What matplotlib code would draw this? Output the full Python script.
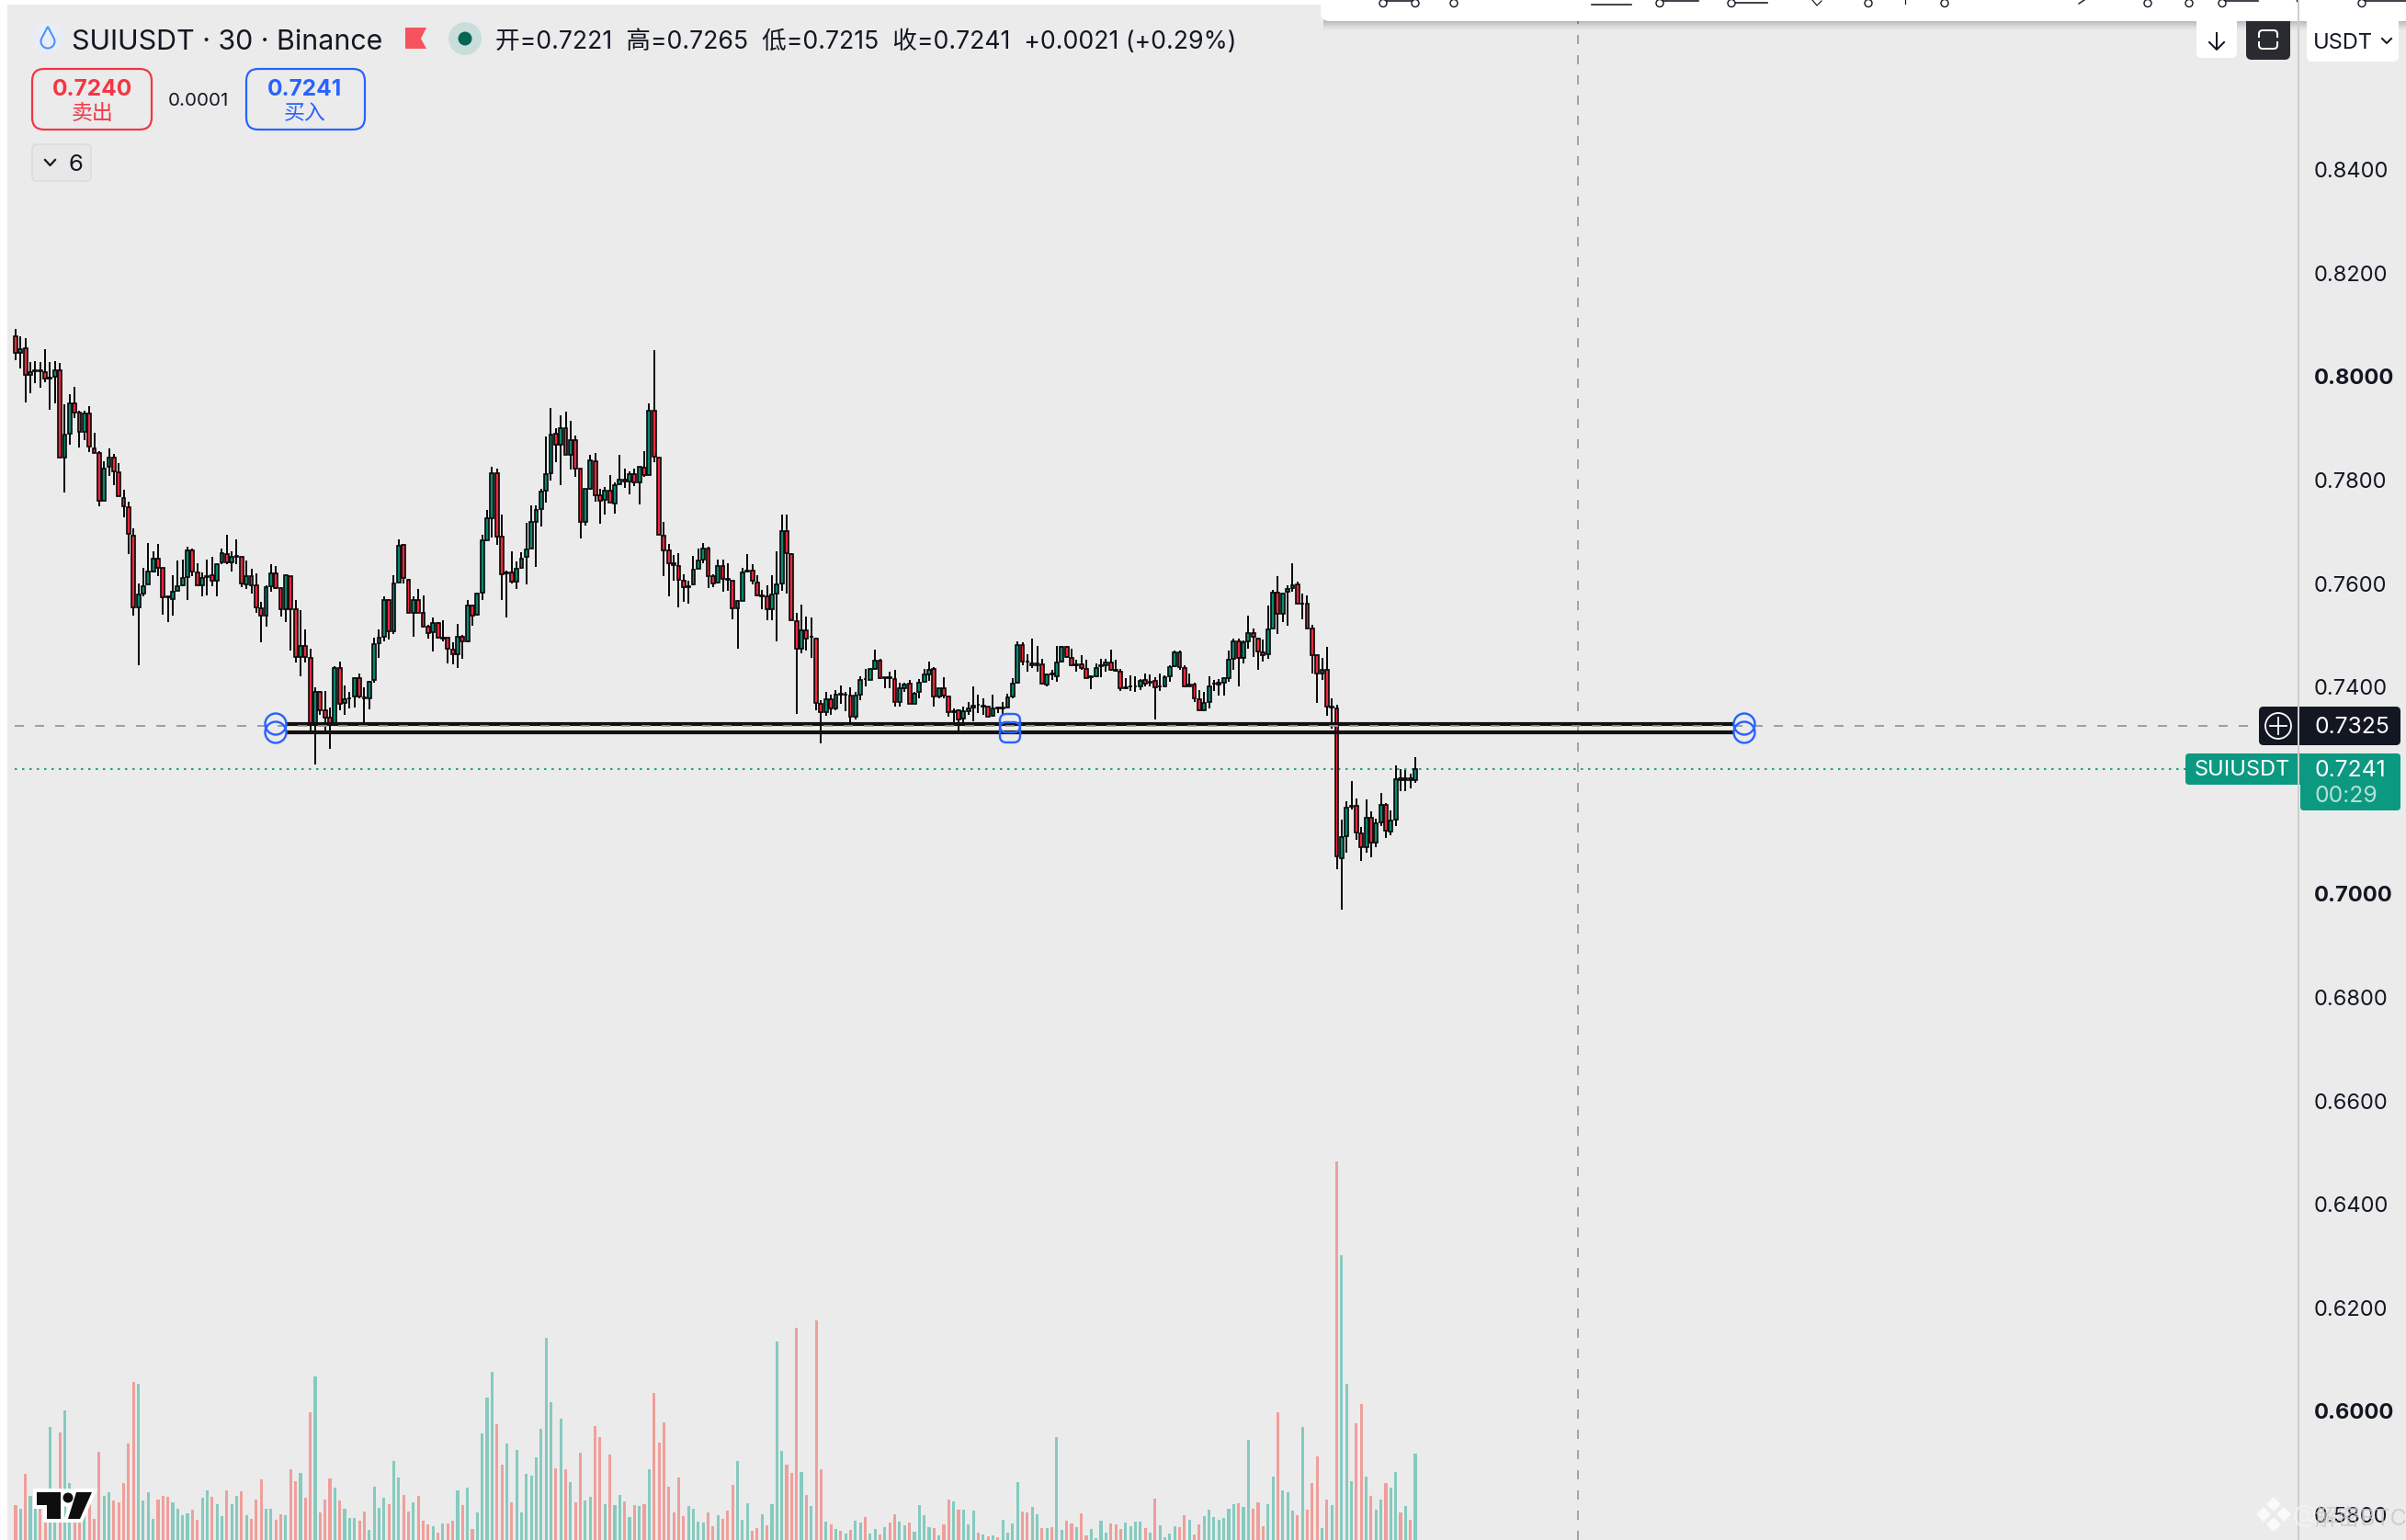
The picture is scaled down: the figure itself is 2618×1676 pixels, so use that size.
import numpy as np
import matplotlib
matplotlib.use("Agg")
import matplotlib.pyplot as plt
from matplotlib.patches import FancyBboxPatch, Circle, Rectangle, Polygon

# ---------- data: prices in units of 0.0001 USDT ----------
open_e4 = [
8078,8047,8055,8003,8010,8012,8009,7997,8000,8013,
7844,7889,7949,7930,7894,7929,7862,7853,7760,7825,
7843,7816,7766,7748,7692,7554,7581,7598,7624,7649,
7631,7575,7570,7586,7597,7613,7665,7622,7597,7613,
7617,7605,7641,7657,7641,7652,7652,7599,7615,7597,
7553,7538,7595,7620,7592,7550,7615,7551,7458,7480,
7457,7328,7391,7356,7341,7331,7437,7369,7378,7381,
7418,7380,7378,7414,7485,7498,7569,7508,7602,7675,
7608,7544,7568,7544,7517,7506,7524,7493,7495,7473,
7464,7498,7489,7557,7540,7582,7684,7726,7813,7691,
7619,7622,7604,7630,7652,7668,7720,7744,7779,7813,
7890,7869,7900,7849,7877,7822,7720,7784,7836,7770,
7762,7779,7755,7792,7801,7798,7812,7795,7824,7810,
7935,7844,7692,7665,7639,7634,7606,7593,7598,7629,
7646,7668,7614,7602,7634,7609,7606,7553,7566,7623,
7626,7602,7576,7575,7551,7581,7600,7701,7657,7528,
7475,7509,7497,7493,7367,7351,7376,7359,7387,7385,
7384,7343,7385,7416,7414,7436,7451,7418,7420,7415,
7372,7398,7406,7368,7390,7410,7425,7435,7381,7397,
7382,7351,7356,7339,7354,7361,7366,7363,7362,7344,
7361,7359,7361,7381,7408,7482,7450,7443,7443,7444,
7405,7426,7421,7449,7477,7457,7443,7444,7436,7420,
7421,7440,7442,7447,7434,7430,7398,7401,7401,7402,
7413,7408,7412,7401,7401,7421,7440,7467,7437,7402,
7405,7377,7356,7371,7406,7405,7408,7418,7455,7489,
7457,7488,7504,7494,7467,7463,7513,7582,7542,7584,
7591,7598,7561,7562,7513,7461,7427,7433,7360,7359,
7070,7111,7168,7171,7118,7090,7147,7100,7138,7173,
7121,7144,7223,7221,7223,7221]
close_e4 = [
8047,8053,8003,8009,8012,8010,7997,7998,8013,7844,
7888,7949,7930,7894,7929,7865,7853,7760,7822,7843,
7817,7769,7749,7696,7554,7579,7595,7623,7649,7631,
7573,7573,7585,7595,7611,7665,7624,7597,7611,7615,
7606,7637,7659,7641,7652,7653,7600,7615,7597,7554,
7538,7594,7620,7592,7550,7617,7550,7458,7480,7458,
7328,7391,7356,7341,7328,7437,7367,7377,7379,7418,
7381,7378,7411,7483,7495,7569,7508,7600,7674,7611,
7544,7568,7544,7517,7504,7524,7495,7495,7474,7464,
7498,7488,7557,7539,7581,7683,7726,7813,7691,7618,
7622,7604,7628,7649,7666,7719,7742,7778,7812,7888,
7869,7900,7849,7877,7822,7720,7783,7838,7771,7760,
7779,7756,7790,7801,7798,7812,7795,7826,7810,7935,
7845,7694,7665,7639,7636,7607,7593,7595,7627,7645,
7668,7614,7600,7634,7609,7608,7553,7566,7622,7626,
7605,7577,7578,7551,7579,7599,7701,7659,7529,7475,
7509,7493,7498,7369,7351,7376,7359,7386,7385,7386,
7343,7384,7414,7415,7436,7451,7417,7420,7418,7372,
7398,7405,7368,7388,7409,7424,7434,7382,7397,7383,
7351,7353,7338,7353,7359,7364,7365,7364,7343,7359,
7359,7361,7380,7407,7482,7449,7449,7445,7445,7407,
7424,7424,7448,7477,7458,7442,7444,7437,7418,7421,
7437,7442,7447,7433,7431,7398,7400,7402,7402,7412,
7407,7411,7399,7402,7420,7439,7467,7439,7401,7405,
7378,7356,7369,7401,7407,7408,7418,7453,7489,7457,
7487,7504,7497,7469,7461,7512,7582,7542,7581,7590,
7596,7561,7562,7514,7462,7427,7433,7362,7362,7073,
7110,7167,7171,7119,7090,7147,7099,7137,7173,7122,
7142,7222,7221,7223,7221,7241]
high_e4 = [
8093,8078,8075,8028,8031,8029,8054,8029,8031,8026,
7946,7967,7981,7935,7935,7944,7891,7856,7836,7862,
7851,7833,7781,7759,7706,7601,7631,7678,7663,7676,
7631,7576,7617,7644,7646,7672,7667,7639,7621,7647,
7651,7639,7667,7695,7663,7685,7652,7644,7628,7619,
7565,7597,7637,7634,7594,7618,7615,7568,7548,7512,
7474,7399,7393,7392,7360,7440,7450,7404,7390,7420,
7427,7399,7412,7496,7511,7575,7570,7616,7685,7676,
7610,7576,7589,7578,7520,7535,7525,7529,7496,7486,
7523,7501,7568,7560,7582,7694,7743,7825,7822,7733,
7626,7662,7643,7661,7718,7751,7751,7784,7885,7939,
7900,7926,7932,7914,7887,7822,7784,7849,7852,7784,
7786,7810,7795,7849,7822,7817,7822,7826,7856,7948,
8051,7844,7720,7676,7656,7659,7618,7606,7654,7667,
7678,7672,7618,7646,7646,7640,7606,7568,7631,7658,
7637,7617,7588,7596,7616,7663,7733,7734,7659,7544,
7559,7536,7534,7495,7374,7390,7385,7395,7404,7391,
7399,7390,7421,7436,7436,7472,7455,7420,7430,7433,
7409,7409,7414,7390,7415,7436,7449,7438,7397,7420,
7383,7359,7357,7362,7372,7401,7385,7378,7363,7386,
7362,7372,7387,7417,7489,7486,7464,7493,7480,7455,
7427,7434,7480,7480,7479,7475,7453,7461,7452,7423,
7445,7455,7455,7472,7453,7436,7417,7423,7421,7415,
7426,7424,7420,7426,7423,7442,7470,7470,7443,7426,
7408,7395,7390,7421,7414,7416,7420,7470,7494,7494,
7490,7538,7514,7495,7492,7558,7588,7614,7582,7596,
7639,7604,7580,7577,7520,7463,7456,7478,7378,7365,
7143,7179,7218,7184,7129,7183,7159,7145,7195,7175,
7161,7248,7241,7240,7232,7265]
low_e4 = [
8032,8016,7951,7968,7988,7979,7989,7936,7948,7844,
7777,7869,7920,7863,7877,7855,7853,7750,7760,7808,
7791,7769,7729,7657,7539,7443,7576,7598,7621,7615,
7540,7526,7539,7586,7595,7569,7615,7597,7576,7578,
7595,7576,7637,7637,7624,7637,7594,7590,7581,7544,
7487,7517,7585,7590,7537,7526,7471,7447,7421,7447,
7316,7251,7346,7316,7280,7328,7356,7347,7359,7360,
7378,7331,7357,7409,7457,7488,7492,7502,7602,7600,
7543,7498,7544,7515,7493,7469,7493,7489,7446,7444,
7437,7455,7486,7519,7538,7569,7683,7689,7675,7568,
7535,7600,7590,7628,7599,7667,7633,7711,7757,7800,
7835,7791,7849,7820,7807,7688,7713,7782,7759,7715,
7733,7756,7736,7791,7785,7772,7789,7753,7807,7810,
7834,7694,7615,7576,7606,7554,7565,7562,7597,7628,
7640,7591,7594,7600,7585,7586,7531,7475,7566,7621,
7598,7576,7551,7530,7530,7489,7586,7581,7529,7348,
7466,7470,7457,7356,7292,7345,7347,7356,7367,7354,
7331,7337,7375,7402,7414,7434,7415,7398,7398,7363,
7363,7391,7367,7367,7378,7408,7412,7363,7379,7378,
7343,7331,7314,7331,7347,7334,7349,7347,7342,7343,
7349,7347,7359,7379,7407,7443,7430,7437,7430,7405,
7401,7414,7411,7448,7457,7440,7430,7434,7417,7396,
7420,7420,7430,7431,7429,7392,7396,7393,7391,7394,
7401,7401,7337,7392,7399,7411,7439,7433,7399,7401,
7371,7355,7353,7359,7393,7383,7383,7411,7434,7402,
7446,7475,7459,7434,7449,7455,7513,7503,7526,7519,
7585,7561,7531,7513,7427,7369,7414,7345,7320,7048,
6970,7080,7164,7105,7064,7080,7071,7091,7132,7109,
7113,7132,7199,7199,7205,7215]
volume = [
114,102,216,144,108,108,103,369,108,351,423,186,168,128,98,128,69,288,144,156,
129,123,186,315,516,510,129,156,69,132,144,141,123,102,81,87,99,66,138,162,
141,117,78,162,117,144,159,81,69,132,198,102,102,66,84,81,231,192,219,138,
417,534,90,132,201,171,129,102,72,72,63,93,33,174,105,138,117,258,204,147,
93,123,144,63,51,45,24,54,54,63,162,114,171,36,90,348,465,549,378,246,
315,123,294,90,216,210,270,363,660,450,234,396,231,189,123,285,129,141,372,336,
117,279,114,147,126,75,114,111,117,231,480,318,384,174,90,204,78,111,102,60,
57,90,45,81,69,96,180,
258,66,120,30,39,84,48,117,648,291,246,219,693,222,147,111,717,231,60,51,
36,30,21,33,63,57,75,21,36,18,42,57,84,60,48,57,27,114,81,42,
39,15,51,132,126,99,99,51,96,24,18,12,15,9,66,24,54,189,93,90,
108,84,39,39,42,336,33,63,54,42,87,15,36,6,63,24,54,51,36,57,
45,60,60,39,24,135,48,9,21,45,42,81,66,18,51,78,99,75,66,72,
102,117,120,108,327,102,123,45,117,207,417,162,156,96,81,369,99,186,273,39,
132,114,1236,930,510,192,381,444,207,144,99,132,186,171,222,90,111,66,282]
price_ticks = [0.84, 0.82, 0.80, 0.78, 0.76, 0.74, 0.70, 0.68, 0.66, 0.64, 0.62, 0.60, 0.58]
bold_ticks = [0.80, 0.70, 0.60]
level_price = 0.7325
last_price = 0.7241
zone_top = 0.73286
zone_bottom = 0.73126

# ---------- layout ----------
W, H = 2618, 1676
plt.rcParams['lines.scale_dashes'] = False
FONT = ['Inter', 'Noto Sans CJK SC', 'DejaVu Sans']
plt.rcParams['font.family'] = FONT
BG = '#ebebeb'
PANE_L, PANE_R = 8, 2501
STEP = 5.344; X0 = 17
PX_PER_PRICE = 5630.0
px = lambda v: v * 0.72  # pixels to points

fig = plt.figure(figsize=(W/100, H/100), dpi=100, facecolor=BG)
rect = [PANE_L/W, 0, (PANE_R-PANE_L)/W, 1]
xlim = ((PANE_L-X0)/STEP, (PANE_R-X0)/STEP)
to_idx = lambda x: (x-X0)/STEP

O, C = np.array(open_e4)*1e-4, np.array(close_e4)*1e-4
Hi, Lo = np.array(high_e4)*1e-4, np.array(low_e4)*1e-4
V = np.array(volume, float)
n = min(len(O), len(V))
xs = np.arange(n)
up = C[:n] >= O[:n]

# volume pane (below)
axv = fig.add_axes(rect, facecolor=BG, zorder=1)
axv.set_xlim(*xlim); axv.set_ylim(0, H*3)
axv.bar(xs, V[:n], width=0.58, color=np.where(up, '#86cabf', '#ef9f9b'), linewidth=0)
axv.axis('off')

# price pane
ax = fig.add_axes(rect, zorder=2)
ax.patch.set_alpha(0)
ax.set_xlim(*xlim)
ax.set_ylim(level_price-(H-790)/PX_PER_PRICE, level_price+790/PX_PER_PRICE)
for s in ax.spines.values():
    s.set_visible(False)
ax.set_xticks([])
ax.yaxis.tick_right()
ax.set_yticks(price_ticks)
ax.set_yticklabels([f'{t:.4f}' for t in price_ticks], fontsize=17, color='#131722')
for lab, t in zip(ax.get_yticklabels(), price_ticks):
    if t in bold_ticks:
        lab.set_fontweight('bold')
ax.tick_params(axis='y', length=0, pad=12)

ax.fill_between([to_idx(312), to_idx(1886)], zone_bottom, zone_top, color='#f4f1e4', lw=0, zorder=1)
ax.vlines(xs, Lo[:n], Hi[:n], color='#0a0a0a', lw=px(2.0), zorder=3)
ax.bar(xs, np.abs(C-O)[:n], bottom=np.minimum(O, C)[:n], width=0.72,
       color=np.where(up, '#088a72', '#f5283f'), edgecolor='#0a0a0a', linewidth=px(1.7), zorder=4)
ax.hlines([zone_top, zone_bottom], to_idx(312), to_idx(1886), color='#111111', lw=px(4.2), zorder=5)
ax.hlines(level_price, to_idx(16), to_idx(2470), color='#9598a1', lw=px(1.8),
          linestyles=[(0, (px(10), px(12)))], zorder=6)
ax.hlines(last_price, to_idx(16), to_idx(2380), color='#0c9981', lw=px(1.8),
          linestyles=[(0, (px(2.5), px(5.5)))], zorder=2)
ax.axvline(to_idx(1717), color='#8a8d96', lw=px(1.5), ls=(0, (px(10), px(12))), zorder=2)

# ---------- overlay in figure pixels ----------
ov = fig.add_axes([0, 0, 1, 1], zorder=3)
ov.set_xlim(0, W); ov.set_ylim(H, 0); ov.axis('off'); ov.patch.set_alpha(0)

def box(x0, y0, x1, y1, r=6, fc='white', ec='none', lw=0, z=5, alpha=None):
    p = FancyBboxPatch((x0, y0), x1-x0, y1-y0, boxstyle=f'round,pad=0,rounding_size={r}',
                       fc=fc, ec=ec, lw=px(lw), zorder=z, alpha=alpha)
    ov.add_patch(p)
    return p

def T(x, y, s, size, color='#131722', ha='left', weight='normal', z=8, alpha=None):
    ov.text(x, y, s, fontsize=size, color=color, ha=ha, va='center', weight=weight,
            zorder=z, family=FONT, alpha=alpha)

# outer white frame
ov.add_patch(Rectangle((0, 0), PANE_L, H, fc='white', lw=0, zorder=4))
ov.add_patch(Rectangle((0, 0), W, 5, fc='white', lw=0, zorder=4))
# price axis divider
ov.plot([PANE_R, PANE_R], [0, H], color='#cdcdcd', lw=px(2), zorder=7)

# top-right floating panel with shadow
for k, a in zip(range(10, 0, -2), [.02, .03, .04, .05, .06]):
    ov.add_patch(Rectangle((1440, 0), W, 23+k, fc='black', alpha=a, lw=0, zorder=3))
box(1437, -30, W+30, 23, r=10, fc='white', z=5)
for cx in [1505, 1540, 1582, 1806, 1884, 2033, 2116, 2337, 2382, 2418, 2570]:
    ov.add_patch(Circle((cx, 3.5), 4, fc='white', ec='#131722', lw=px(1.4), zorder=6))
for a, b, yy in [(1505, 1540, 1.5), (1732, 1775, 5.5), (1806, 1848, 1.5), (1884, 1923, 3.5),
                 (2418, 2457, 1.5), (2570, W, 1.5)]:
    ov.plot([a, b], [yy, yy], color='#131722', lw=px(1.6), zorder=5.5)
ov.plot([1972, 1977, 1982], [0, 6, 1], color='#131722', lw=px(1.2), zorder=6)
ov.plot([2073, 2073], [0, 4], color='#131722', lw=px(1.2), zorder=6)
ov.plot([2262, 2268], [4, 0], color='#131722', lw=px(1.4), zorder=6)
ov.plot([2499, 2499], [0, 1.5], color='#131722', lw=px(1.4), zorder=6)

# header
ov.add_patch(Circle((52, 42), 17, fc='#e8edf8', lw=0, zorder=6))
th = np.linspace(-0.6, np.pi+0.6, 40)
ov.add_patch(Polygon(np.r_[[[52, 29]], np.c_[52+7.5*np.cos(th), 45+7.5*np.sin(th)]],
                     fc='none', ec='#4a90f5', lw=px(2), zorder=7))
T(78, 46, 'SUIUSDT · 30 · Binance', 21.9)
ov.add_patch(Polygon([[441, 30], [464, 30], [458, 42], [464, 53], [441, 53]], fc='#f7525f', lw=0, zorder=6))
ov.add_patch(Circle((506, 42), 18, fc='#c9dedb', lw=0, zorder=6))
ov.add_patch(Circle((506, 42), 7.5, fc='#056656', lw=0, zorder=7))
T(539, 46, '开=0.7221  高=0.7265  低=0.7215  收=0.7241  +0.0021 (+0.29%)', 19.2)

# bid/ask
box(35, 75, 165, 141, r=13, fc='none', ec='#f23645', lw=2.2)
T(100, 98, '0.7240', 17.6, '#f23645', 'center', 'bold')
T(100, 124, '卖出', 16.5, '#f23645', 'center')
T(216, 110, '0.0001', 14.8, '#131722', 'center')
box(268, 75, 397, 141, r=13, fc='none', ec='#2962ff', lw=2.2)
T(332, 98, '0.7241', 17.6, '#2962ff', 'center', 'bold')
T(332, 124, '买入', 16.5, '#2962ff', 'center')
box(35, 157, 99, 197, r=5, fc='#e8e8e8', ec='#dbdbdb', lw=1.5)
ov.plot([49, 54.5, 60], [174, 180, 174], color='#131722', lw=px(2.2), zorder=8)
T(82, 180, '6', 18.5, '#131722', 'center')

# handles
for cy in (788, 797):
    ov.add_patch(Circle((300, cy), 11.5, fc='none', ec='#2962ff', lw=px(2.4), zorder=6))
    ov.add_patch(Circle((1898, cy), 11.5, fc='none', ec='#2962ff', lw=px(2.4), zorder=6))
box(1088, 777, 1110, 797, r=7, fc='none', ec='#2962ff', lw=2.4, z=6)
box(1088, 786, 1110, 808, r=7, fc='none', ec='#2962ff', lw=2.4, z=6)

# top-right buttons
box(2390, 10, 2434, 63, r=6, fc='white', z=4.5)
ov.plot([2412, 2412], [36, 53], color='#131722', lw=px(2), zorder=6)
ov.plot([2404, 2412, 2420], [46, 54, 46], color='#131722', lw=px(2), zorder=6)
box(2444, 10, 2492, 65, r=6, fc='#2a2b30', z=4.5)
box(2458, 33, 2478, 53, r=4, fc='none', ec='white', lw=2, z=6)
ov.add_patch(Rectangle((2455, 41), 26, 4, fc='#2a2b30', lw=0, zorder=6.5))
box(2510, 10, 2610, 67, r=6, fc='white', z=4.5)
T(2517, 47, 'USDT', 17, '#131722')
ov.plot([2592, 2597, 2602], [42, 47, 42], color='#131722', lw=px(2), zorder=8)

# price labels
box(2458, 769, 2612, 811, r=5, fc='#131722', z=6)
ov.add_patch(Circle((2479, 790), 14, fc='none', ec='white', lw=px(1.8), zorder=8))
ov.plot([2470, 2488], [790, 790], color='white', lw=px(1.8), zorder=8)
ov.plot([2479, 2479], [781, 799], color='white', lw=px(1.8), zorder=8)
T(2518, 791, '0.7325', 17.8, 'white')
box(2378, 820, 2510, 854, r=4, fc='#0c9981', z=6)
T(2388, 838, 'SUIUSDT', 17, 'white')
box(2503, 820, 2612, 882, r=4, fc='#0c9981', z=6)
T(2518, 838, '0.7241', 17.8, 'white')
T(2518, 866, '00:29', 17.8, '#b5e0d8')

# TradingView logo
for pts in ([[40, 1624], [66, 1624], [66, 1653], [51, 1653], [51, 1638], [40, 1638]],
            [[83, 1624], [100, 1624], [87, 1653], [74, 1653]]):
    ov.add_patch(Polygon(pts, fc='#0e0e0e', ec='white', lw=px(8), joinstyle='miter', zorder=6))
ov.add_patch(Circle((74, 1630), 10, fc='white', lw=0, zorder=6))
for pts in ([[40, 1624], [66, 1624], [66, 1653], [51, 1653], [51, 1638], [40, 1638]],
            [[83, 1624], [100, 1624], [87, 1653], [74, 1653]]):
    ov.add_patch(Polygon(pts, fc='#0e0e0e', lw=0, zorder=7))
ov.add_patch(Circle((74, 1630), 5.5, fc='#0e0e0e', lw=0, zorder=7))

# watermark
for cx, cy, r in [(2474, 1637, 5), (2474, 1659, 5), (2463, 1648, 5), (2485, 1648, 5)]:
    ov.add_patch(Polygon([[cx, cy-r*1.6], [cx+r*1.6, cy], [cx, cy+r*1.6], [cx-r*1.6, cy]],
                         fc='white', alpha=.8, lw=0, zorder=8))
T(2494, 1649, '@', 19, '#f4f4f4', alpha=.85)
T(2518, 1653, '解密BTC', 18, '#c9c9c9', alpha=.8)

fig.savefig('out.png', dpi=100, facecolor=BG)
assert len(O) == len(C) == len(Hi) == len(Lo) == len(V), (len(O), len(C), len(Hi), len(Lo), len(V))
